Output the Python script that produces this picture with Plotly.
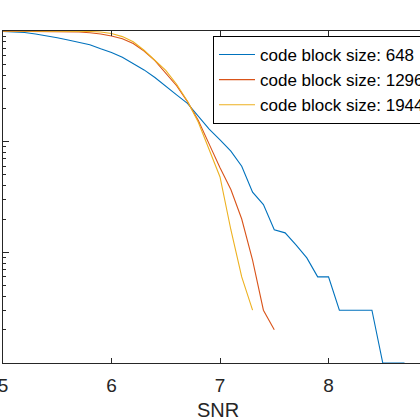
import plotly.graph_objects as go

snr_648 = [5.0, 5.1, 5.2, 5.3, 5.4, 5.5, 5.6, 5.7, 5.8, 5.9,
           6.0, 6.1, 6.2, 6.3, 6.4, 6.5, 6.6, 6.7, 6.8, 6.9,
           7.0, 7.1, 7.2, 7.3, 7.4, 7.5, 7.6, 7.7, 7.8, 7.9,
           8.0, 8.1, 8.2, 8.3, 8.4, 8.5, 8.6, 8.7]
bler_648 = [0.99, 0.985, 0.97, 0.94, 0.91, 0.87, 0.83, 0.79, 0.75, 0.69,
            0.64, 0.58, 0.51, 0.445, 0.38, 0.32, 0.265, 0.222, 0.17, 0.13,
            0.104, 0.082, 0.06, 0.035, 0.027, 0.016, 0.015, 0.0117, 0.0089, 0.006,
            0.006, 0.003, 0.003, 0.003, 0.003, 0.001, 0.001, 0.001]

snr_1296 = [5.0, 5.1, 5.2, 5.3, 5.4, 5.5, 5.6, 5.7, 5.8, 5.9,
            6.0, 6.1, 6.2, 6.3, 6.4, 6.5, 6.6, 6.7, 6.8, 6.9,
            7.0, 7.1, 7.2, 7.3, 7.4, 7.5]
bler_1296 = [0.998, 0.997, 0.996, 0.995, 0.993, 0.99, 0.985, 0.978, 0.965, 0.94,
             0.9, 0.85, 0.77, 0.66, 0.54, 0.42, 0.32, 0.23, 0.155, 0.095,
             0.058, 0.037, 0.02, 0.0085, 0.003, 0.002]

snr_1944 = [5.0, 5.1, 5.2, 5.3, 5.4, 5.5, 5.6, 5.7, 5.8, 5.9,
            6.0, 6.1, 6.2, 6.3, 6.4, 6.5, 6.6, 6.7, 6.8, 6.9,
            7.0, 7.1, 7.2, 7.3]
bler_1944 = [0.9995, 0.9995, 0.999, 0.999, 0.999, 0.998, 0.997, 0.995, 0.99, 0.98,
             0.95, 0.89, 0.8, 0.67, 0.54, 0.44, 0.33, 0.232, 0.15, 0.085,
             0.048, 0.016, 0.006, 0.003]

names = ["code block size: 648", "code block size: 1296", "code block size: 1944"]
colors = ["#0072BD", "#D95319", "#EDB120"]

font = "Liberation Sans, Arial, sans-serif"
axis_color = "#262626"

fig = go.Figure()
for x, y, name, c in zip([snr_648, snr_1296, snr_1944],
                         [bler_648, bler_1296, bler_1944], names, colors):
    fig.add_trace(go.Scatter(x=x, y=y, mode="lines", name=name,
                             line=dict(color=c, width=1.1)))

fig.update_xaxes(
    range=[5, 8.843], showgrid=False, zeroline=False,
    showline=True, linecolor=axis_color, linewidth=1, mirror="ticks",
    ticks="inside", ticklen=5, tickcolor=axis_color, dtick=1,
    tickfont=dict(family=font, size=19, color=axis_color),
    ticklabeloverflow="allow", ticklabelstandoff=5,
)
fig.update_yaxes(
    type="log", range=[-3, 0], showgrid=False, zeroline=False,
    showline=True, linecolor=axis_color, linewidth=1,
    ticks="inside", ticklen=6, tickcolor=axis_color, dtick=1,
    showticklabels=False,
    minor=dict(ticks="inside", ticklen=3, tickcolor=axis_color, dtick="D1", showgrid=False),
)

fig.add_annotation(text="SNR", xref="paper", yref="paper", x=0.516, y=-0.142,
                   showarrow=False, xanchor="center", yanchor="middle",
                   font=dict(family=font, size=20, color=axis_color))

fig.update_layout(
    width=420, height=420,
    margin=dict(l=3, r=0, t=31, b=57, autoexpand=False),
    plot_bgcolor="white", paper_bgcolor="white",
    showlegend=True,
    legend=dict(x=0.5036, y=0.985, xanchor="left", yanchor="top",
                bgcolor="white", bordercolor="#000000", borderwidth=1,
                font=dict(family=font, size=17, color="#000000"),
                itemwidth=36, tracegroupgap=0),
)

# the page body has a default 8px margin; drop it so the figure sits at the corner
fig.write_html("out.html", config={"displayModeBar": False},
               post_script="document.body.style.margin='0';")
